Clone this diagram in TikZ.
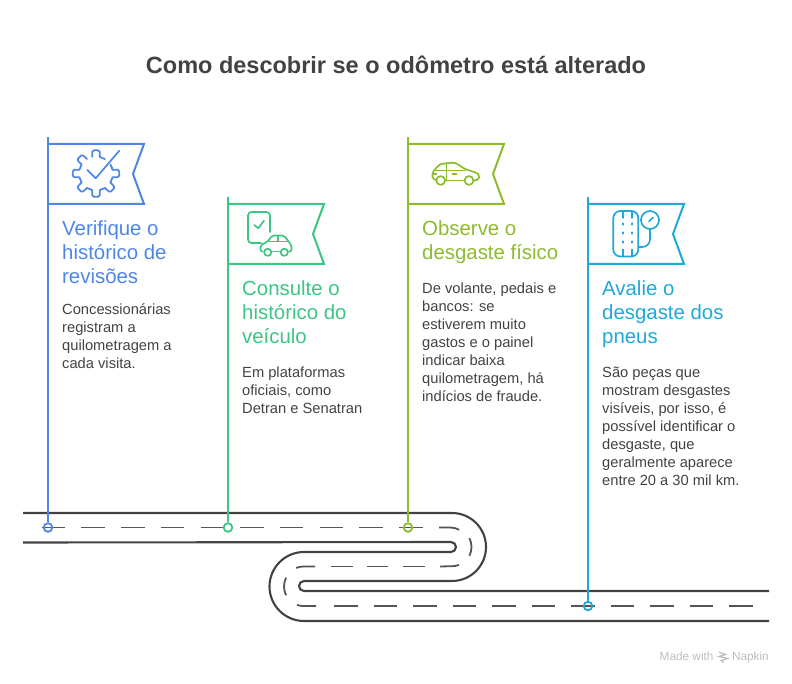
\documentclass[tikz,border=0pt]{standalone}
\usepackage{fontspec}
\setmainfont{Liberation Sans}
\definecolor{cA}{HTML}{4F86E6}
\definecolor{cB}{HTML}{3CC583}
\definecolor{cC}{HTML}{8DBB2E}
\definecolor{cD}{HTML}{1FA8D8}
\definecolor{ink}{HTML}{424242}
\definecolor{wm}{HTML}{BDBDBD}
\tikzset{
  road/.style={draw=ink,line width=2.1pt},
  lane/.style={draw=ink!90,line width=1.8pt},
  flagline/.style={line width=2pt,line join=miter},
  icon/.style={line width=1.7pt,line cap=round,line join=round},
  pin/.style={circle,draw,fill=none,line width=1.8pt,minimum size=8.6pt,inner sep=0pt},
  head/.style={anchor=north west,inner sep=0pt,align=left,font=\fontsize{20.4}{24}\selectfont},
  body/.style={anchor=north west,inner sep=0pt,align=left,text=ink,font=\fontsize{14.7}{18}\selectfont},
}
\begin{document}
\begin{tikzpicture}[x=1pt,y=-1pt]
\useasboundingbox (0,0) rectangle (792,684);
% title
\node[inner sep=0pt,text=ink,font=\fontsize{23.5}{28}\bfseries\selectfont] (title) at (396,65) {Como descobrir se o odômetro está alterado};
% road
\draw[road] (23,513) -- (452,513) arc[start angle=-90,end angle=90,radius=34] -- (304,581)
  arc[start angle=-90,end angle=-270,radius=5] -- (769,591);
\draw[road] (769,621) -- (304,621) arc[start angle=90,end angle=270,radius=34.5] -- (451,552)
  arc[start angle=90,end angle=-90,radius=5] -- (23,542.5);
% lane dashes
\foreach \a in {41.7,81.4,121.1,160.8,200.5,240.2,279.9,319.6,359.3,399}
  \draw[lane] (\a,527.5) -- ++(23.5,0);
\draw[lane] (439,527.5) -- (450,527.5) arc[start angle=-90,end angle=-62,radius=19.5];
\draw[lane] (452,547) ++(-27:19.5) arc[start angle=-27,end angle=27,radius=19.5];
\draw[lane] (459,564.9) arc[start angle=69,end angle=90,radius=19.5] -- (440,566.5);
\foreach \a/\b in {425/403,388/367,353/331}
  \draw[lane] (\a,566.5) -- (\b,566.5);
\draw[lane] (315,566.5) -- (303.5,566.5) arc[start angle=-90,end angle=-112,radius=19.5];
\draw[lane] (303.5,586.5) ++(-153:19.5) arc[start angle=-153,end angle=-207,radius=19.5];
\draw[lane] (297,604.9) arc[start angle=110,end angle=90,radius=19.5] -- (316,606);
\foreach \a in {334,373.5,413,452.5,492,531.5,571,610.5,650,689.5,729}
  \draw[lane] (\a,606) -- ++(23.5,0);
% flags
\foreach \n/\x/\y/\c in {1/48/137/cA,2/228/197/cB,3/408/137/cC,4/588/197/cD}{
  \coordinate (p\n) at (\x,\y);
  \draw[flagline,draw=\c] (\x,\y+7) -- ++(96,0) -- ++(-11,30) -- ++(11,30) -- ++(-96,0);
}
\node[pin,draw=cA] (c1) at (48,527.5) {};
\node[pin,draw=cB] (c2) at (228,527.5) {};
\node[pin,draw=cC] (c3) at (408,527.5) {};
\node[pin,draw=cD] (c4) at (588,606) {};
\draw[flagline,draw=cA] (p1) -- (c1);
\draw[flagline,draw=cB] (p2) -- (c2);
\draw[flagline,draw=cC] (p3) -- (c3);
\draw[flagline,draw=cD] (p4) -- (c4);
% icon 1: gear with check
\begin{scope}[shift={(96,173.5)},icon,draw=cA]
  \foreach \t in {-90,-135,180,135,90,45,0}{
    \draw[rounded corners=1.5pt] (\t-13:17) -- (\t-9:23.5) -- (\t+9:23.5) -- (\t+13:17);
  }
  \foreach \t in {-135,180,135,90,45,0}
    \draw (\t-13:17) arc[start angle=\t-13,end angle=\t-32,radius=17];
  \draw (-77:17) arc[start angle=-77,end angle=-58,radius=17];
  \draw (-13:17) arc[start angle=-13,end angle=-24,radius=17];
  \draw (-8.7,-3.5) -- (-0.3,4.8) -- (23.3,-22.8);
\end{scope}
% icon 2
\begin{scope}[icon,draw=cB]
  \draw[rounded corners=3.5pt] (270,232) -- (270,212) -- (248,212) -- (248,243) -- (261,243);
  \draw (254.3,225) -- (258.3,228.3) -- (264,220.7);
  \draw[rounded corners=2pt] (262.5,251.5) -- (260.5,251.5) -- (260.5,245) -- (268,241.5) -- (272,235.5) -- (284,235.5) -- (288.5,241.5) -- (291.5,245) -- (291.5,251.5) -- (289,251.5);
  \draw (273,251.5) -- (279,251.5);
  \draw (268,241.5) -- (288.5,241.5);
  \draw (278,235.5) -- (278,241.5);
  \draw (267.7,252.3) circle[radius=3.6];
  \draw (284.3,252.3) circle[radius=3.6];
\end{scope}
% icon 3
\begin{scope}[icon,draw=cC]
  \draw[rounded corners=2pt] (436,180) -- (432.5,179) -- (432.5,172) -- (440,164) -- (455,162.5) -- (465,169) -- (477,173) -- (479.5,175) -- (479,179.5) -- (474,180.5);
  \draw (446,180.5) -- (464,180.5);
  \draw (436,170.5) -- (465,170.5);
  \draw (446.5,162.8) -- (446.5,180.5);
  \draw (452.5,174.3) -- (456.5,174.3);
  \draw (432.5,174.3) -- (436.5,174.3);
  \draw (440.7,180.5) circle[radius=4.4];
  \draw (469,180.5) circle[radius=4.4];
\end{scope}
% icon 4
\begin{scope}[icon,draw=cD]
  \draw[rounded corners=7pt] (613.3,211) rectangle (638.3,256.5);
  \draw (622.7,211) -- (622.7,218);
  \draw (631.7,211) -- (631.7,218);
  \draw (622.7,249.5) -- (622.7,256.5);
  \draw (631.7,249.5) -- (631.7,256.5);
  \foreach \y in {224,233,242}{
    \draw (622.7,\y-.7) -- (622.7,\y+.7);
    \draw (631.7,\y-.7) -- (631.7,\y+.7);
  }
  \draw (650,220) circle[radius=9];
  \draw (649,221.5) -- (653,217.5);
  \draw (650,229) -- (650,239) .. controls (650,244.5) and (646,247) .. (642,247) -- (638.3,247);
\end{scope}
% texts
\node[head,text=cA] (h1) at (62,218.5) {\strut Verifique o\\histórico de\\revisões};
\node[body] (b1) at (62,301.4) {\strut Concessionárias\\registram a\\quilometragem a\\cada visita.};
\node[head,text=cB] (h2) at (242,278.5) {\strut Consulte o\\histórico do\\veículo};
\node[body] (b2) at (242,364.4) {\strut Em plataformas\\oficiais, como\\Detran e Senatran};
\node[head,text=cC] (h3) at (422,218.5) {\strut Observe o\\desgaste físico};
\node[body] (b3) at (422,280.4) {\strut De volante, pedais e\\bancos: se\\estiverem muito\\gastos e o painel\\indicar baixa\\quilometragem, há\\indícios de fraude.};
\node[head,text=cD] (h4) at (602,278.5) {\strut Avalie o\\desgaste dos\\pneus};
\node[body] (b4) at (602,364.4) {\strut São peças que\\mostram desgastes\\visíveis, por isso, é\\possível identificar o\\desgaste, que\\geralmente aparece\\entre 20 a 30 mil km.};
% watermark
\node[anchor=base west,inner sep=0pt,text=wm,font=\fontsize{11.8}{14}\selectfont] (wm1) at (659.5,660) {Made with};
\node[anchor=base east,inner sep=0pt,text=wm,font=\fontsize{11.8}{14}\selectfont] (wm2) at (769,660) {Napkin};
\draw[wm,line width=1.2pt] (719,652) -- (725.5,654.5) -- (719,656.5) -- (727.5,658.5) -- (721,660.5) -- (724,662.5);
\end{tikzpicture}
\end{document}
